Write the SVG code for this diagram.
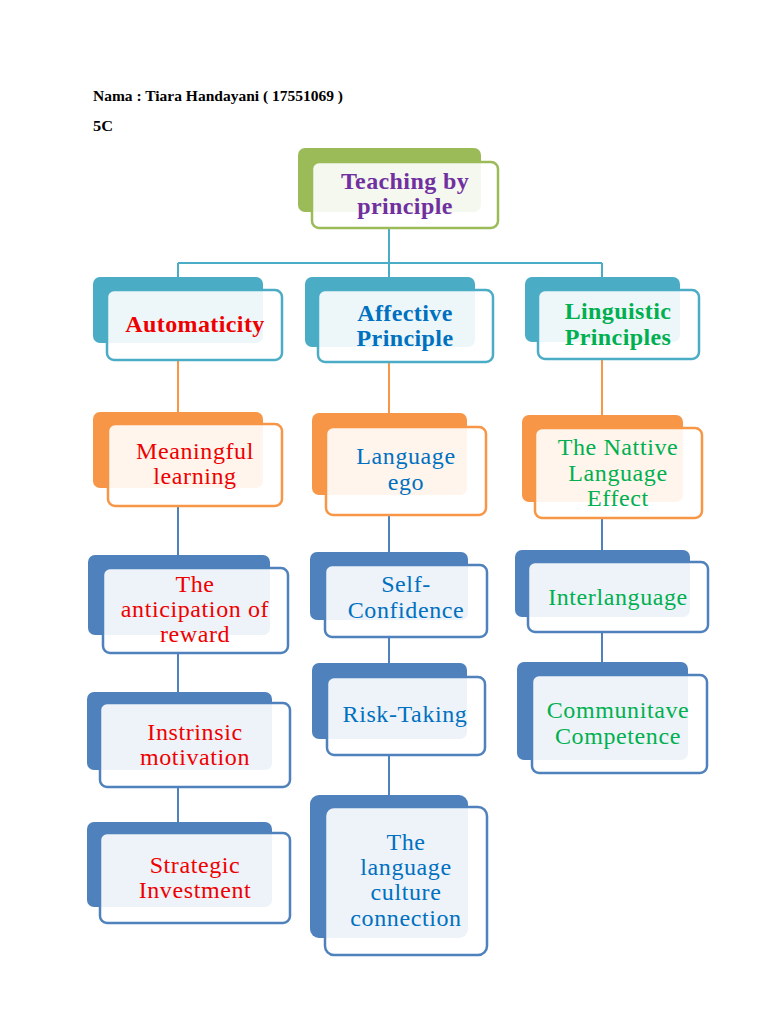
<svg xmlns="http://www.w3.org/2000/svg" width="768" height="1024" viewBox="0 0 768 1024">
<style>
  .bg{fill:#ffffff}
  .hdr{font-family:"Liberation Serif","Times New Roman",serif;font-weight:bold;font-size:14px;fill:#000}
  .t{font-family:"Liberation Serif","Times New Roman",serif;font-size:24px;letter-spacing:0.6px;text-anchor:middle}
  .b{font-weight:bold;letter-spacing:0.4px}
  .front{fill:#ffffff;fill-opacity:0.9;stroke-width:2.5}
  .g-back{fill:#9BBB59}.g-front{stroke:#9BBB59}
  .c-back{fill:#4BACC6}.c-front{stroke:#4BACC6}
  .o-back{fill:#F79646}.o-front{stroke:#F79646}
  .u-back{fill:#4F81BD}.u-front{stroke:#4F81BD}
  .purple{fill:#7030A0}.red{fill:#EE0000}.blue{fill:#0070C0}.green{fill:#00B050}
  .ln{fill:none;stroke-width:2}
  .lc{stroke:#4BACC6}.lo{stroke:#F79646}.lu{stroke:#4F81BD}
</style>
<rect class="bg" x="0" y="0" width="768" height="1024"/>
<g id="header">
  <text class="hdr" x="93" y="101" textLength="250" lengthAdjust="spacingAndGlyphs">Nama : Tiara Handayani ( 17551069 )</text>
  <text class="hdr" x="93" y="131" textLength="20" lengthAdjust="spacingAndGlyphs">5C</text>
</g>
<g id="connectors">
  <path class="ln lc" d="M389 228 V263 M178 263 H602 M178 263 V278 M389 263 V278 M602 263 V278"/>
  <path class="ln lo" d="M178 360 V413 M389 362 V414 M602 359 V416"/>
  <path class="ln lu" d="M178 506 V556 M389 515 V553 M602 518 V551"/>
  <path class="ln lu" d="M178 653 V693 M178 787 V823"/>
  <path class="ln lu" d="M389 637 V664 M389 755 V796"/>
  <path class="ln lu" d="M602 632 V663"/>
</g>
<g id="root">
  <rect class="g-back" x="298" y="148" width="183" height="64" rx="7"/>
  <rect class="front g-front" x="312" y="162" width="186" height="66" rx="7"/>
  <text class="t b purple" x="405" y="189">Teaching by</text>
  <text class="t b purple" x="405" y="214">principle</text>
</g>
<g id="automaticity">
  <rect class="c-back" x="93" y="277" width="170" height="66" rx="7"/>
  <rect class="front c-front" x="107" y="290" width="175" height="70" rx="7"/>
  <text class="t b red" x="195" y="332">Automaticity</text>
</g>
<g id="affective">
  <rect class="c-back" x="305" y="277" width="170" height="70" rx="7"/>
  <rect class="front c-front" x="318" y="290" width="175" height="72" rx="7"/>
  <text class="t b blue" x="405" y="321">Affective</text>
  <text class="t b blue" x="405" y="346">Principle</text>
</g>
<g id="linguistic">
  <rect class="c-back" x="525" y="277" width="155" height="65" rx="7"/>
  <rect class="front c-front" x="538" y="290" width="161" height="69" rx="7"/>
  <text class="t b green" x="618" y="319">Linguistic</text>
  <text class="t b green" x="618" y="345">Principles</text>
</g>
<g id="meaningful">
  <rect class="o-back" x="93" y="412" width="170" height="76" rx="7"/>
  <rect class="front o-front" x="108" y="424" width="174" height="82" rx="7"/>
  <text class="t red" x="195" y="459">Meaningful</text>
  <text class="t red" x="195" y="484">learning</text>
</g>
<g id="ego">
  <rect class="o-back" x="312" y="413" width="155" height="82" rx="7"/>
  <rect class="front o-front" x="326" y="427" width="160" height="88" rx="7"/>
  <text class="t blue" x="406" y="464">Language</text>
  <text class="t blue" x="406" y="490">ego</text>
</g>
<g id="native">
  <rect class="o-back" x="522" y="415" width="161" height="87" rx="7"/>
  <rect class="front o-front" x="535" y="428" width="167" height="90" rx="7"/>
  <text class="t green" x="618" y="455">The Nattive</text>
  <text class="t green" x="618" y="481">Language</text>
  <text class="t green" x="618" y="506">Effect</text>
</g>
<g id="anticipation">
  <rect class="u-back" x="88" y="555" width="182" height="80" rx="7"/>
  <rect class="front u-front" x="103" y="568" width="185" height="85" rx="7"/>
  <text class="t red" x="195" y="592">The</text>
  <text class="t red" x="195" y="617">anticipation of</text>
  <text class="t red" x="195" y="642">reward</text>
</g>
<g id="intrinsic">
  <rect class="u-back" x="87" y="692" width="185" height="78" rx="7"/>
  <rect class="front u-front" x="100" y="703" width="190" height="84" rx="7"/>
  <text class="t red" x="195" y="740">Instrinsic</text>
  <text class="t red" x="195" y="765">motivation</text>
</g>
<g id="strategic">
  <rect class="u-back" x="87" y="822" width="185" height="85" rx="7"/>
  <rect class="front u-front" x="100" y="833" width="190" height="90" rx="7"/>
  <text class="t red" x="195" y="873">Strategic</text>
  <text class="t red" x="195" y="898">Investment</text>
</g>
<g id="selfconfidence">
  <rect class="u-back" x="310" y="552" width="158" height="68" rx="7"/>
  <rect class="front u-front" x="325" y="565" width="162" height="72" rx="7"/>
  <text class="t blue" x="406" y="592">Self-</text>
  <text class="t blue" x="406" y="618">Confidence</text>
</g>
<g id="risktaking">
  <rect class="u-back" x="312" y="663" width="155" height="76" rx="7"/>
  <rect class="front u-front" x="327" y="677" width="158" height="78" rx="7"/>
  <text class="t blue" x="405" y="722">Risk-Taking</text>
</g>
<g id="culture">
  <rect class="u-back" x="310" y="795" width="158" height="143" rx="9"/>
  <rect class="front u-front" x="325" y="807" width="162" height="148" rx="9"/>
  <text class="t blue" x="406" y="850">The</text>
  <text class="t blue" x="406" y="875">language</text>
  <text class="t blue" x="406" y="900">culture</text>
  <text class="t blue" x="406" y="926">connection</text>
</g>
<g id="interlanguage">
  <rect class="u-back" x="515" y="550" width="175" height="67" rx="7"/>
  <rect class="front u-front" x="528" y="562" width="180" height="70" rx="7"/>
  <text class="t green" x="618" y="605">Interlanguage</text>
</g>
<g id="communicative">
  <rect class="u-back" x="517" y="662" width="171" height="98" rx="7"/>
  <rect class="front u-front" x="532" y="675" width="175" height="98" rx="7"/>
  <text class="t green" x="618" y="718">Communitave</text>
  <text class="t green" x="618" y="744">Competence</text>
</g>
</svg>
